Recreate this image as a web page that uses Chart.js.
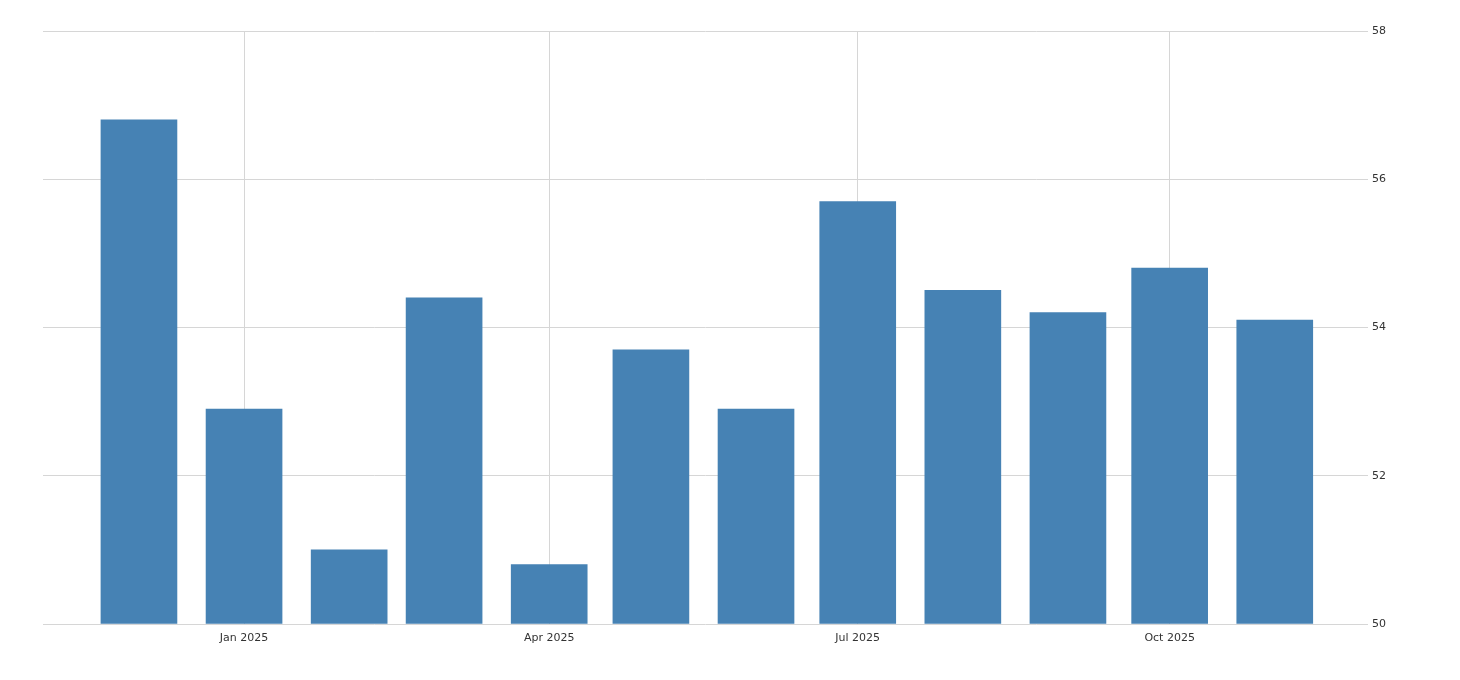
<!DOCTYPE html>
<html>
<head>
<meta charset="utf-8">
<script src="https://cdn.jsdelivr.net/npm/chart.js@4"></script>
<style>
  body { margin: 0; background: #fff; }
  #wrap { width: 1460px; height: 680px; }
</style>
</head>
<body>
<div id="wrap"><canvas id="chart"></canvas></div>
<script>
// months Dec 2024 .. Nov 2025, as days since 2024-12-01
const monthDays = [0, 31, 62, 90, 121, 151, 182, 212, 243, 274, 304, 335];
const values = [56.8, 52.9, 51.0, 54.4, 50.8, 53.7, 52.9, 55.7, 54.5, 54.2, 54.8, 54.1];
const tickDays = [31, 121, 212, 304];
const tickLabels = ['Jan 2025', 'Apr 2025', 'Jul 2025', 'Oct 2025'];
const yTicks = [50, 52, 54, 56, 58];

const ctx = document.getElementById('chart').getContext('2d');
new Chart(ctx, {
    type: 'bar',
    data: {
        datasets: [{
            data: monthDays.map((d, i) => ({ x: d, y: values[i] })),
            backgroundColor: '#4682b4',
            barThickness: 76,
            base: 50
        }]
    },
    options: {
        responsive: true,
        maintainAspectRatio: false,
        animation: false,
        layout: { padding: { left: 43, top: 31, right: 0, bottom: 0 } },
        plugins: { legend: { display: false }, tooltip: { enabled: false } },
        scales: {
            x: {
                type: 'linear',
                offset: false,
                min: -28.3,
                max: 362.5,
                afterBuildTicks: s => { s.ticks = tickDays.map(v => ({ value: v })); },
                afterFit: s => { s.height = 56; },
                ticks: {
                    color: '#333',
                    font: { family: 'DejaVu Sans', size: 11 },
                    padding: 8,
                    maxRotation: 0,
                    callback: v => tickLabels[tickDays.indexOf(v)]
                },
                grid: { offset: false, color: '#d6d6d6', drawTicks: false },
                border: { display: false }
            },
            y: {
                position: 'right',
                min: 50,
                max: 58,
                afterBuildTicks: s => { s.ticks = yTicks.map(v => ({ value: v })); },
                afterFit: s => { s.width = 92; },
                ticks: {
                    color: '#333',
                    font: { family: 'DejaVu Sans', size: 11 },
                    padding: 4
                },
                grid: { color: '#d6d6d6', drawTicks: false },
                border: { display: false }
            }
        }
    }
});
</script>
</body>
</html>
